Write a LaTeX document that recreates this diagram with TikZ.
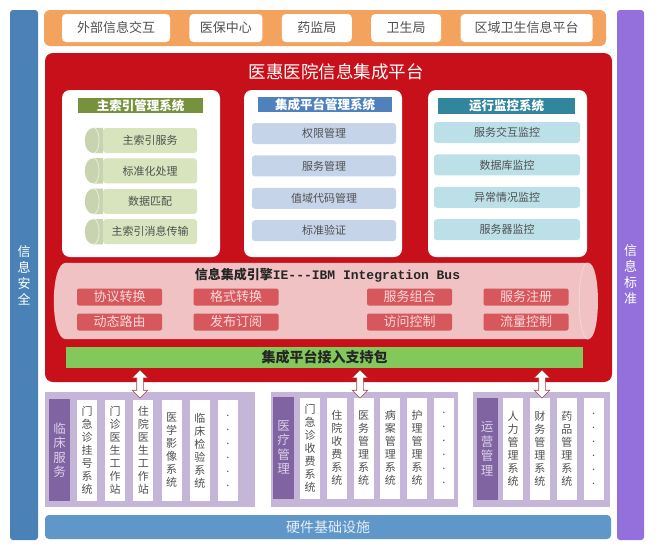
\documentclass[tikz,border=0pt]{standalone}
\usepackage{fontspec}
\setmainfont{Noto Sans CJK SC}
\setmonofont{Liberation Mono}
\usetikzlibrary{positioning,shapes.arrows,calc}
\definecolor{SecBlue}{HTML}{4A82B8}
\definecolor{StdPurple}{HTML}{9370DB}
\definecolor{ExtOrange}{HTML}{F4A35F}
\definecolor{PlatRed}{HTML}{C8101A}
\definecolor{MpiGreen}{HTML}{76923C}
\definecolor{MpiItem}{HTML}{D7E4BD}
\definecolor{MgmtBlue}{HTML}{4F81BD}
\definecolor{MgmtItem}{HTML}{C6D4EA}
\definecolor{MonTeal}{HTML}{31859C}
\definecolor{MonItem}{HTML}{BCE0E8}
\definecolor{EngPink}{HTML}{F0C2C4}
\definecolor{EngRed}{HTML}{D6585C}
\definecolor{EngText}{HTML}{FADADB}
\definecolor{PkgGreen}{HTML}{82C85A}
\definecolor{GrpLav}{HTML}{C5B5D9}
\definecolor{GrpPurple}{HTML}{8064A2}
\definecolor{GrpText}{HTML}{DCD0EA}
\definecolor{HwBlue}{HTML}{5E97C8}
\definecolor{HwText}{HTML}{E6EEF6}
\definecolor{TextGray}{HTML}{505050}
\definecolor{ArrowEdge}{HTML}{A04848}

\begin{document}
\begin{tikzpicture}[x=1pt,y=-1pt,every node/.style={inner sep=0pt},
  bar/.style={rounded corners=3pt,minimum width=28pt,minimum height=530pt,text=white,align=center,font=\fontsize{13}{16}\selectfont},
  topbox/.style={fill=white,rounded corners=4pt,minimum height=28pt,text=TextGray,font=\fontsize{13}{15}\selectfont},
  panel/.style={fill=white,rounded corners=8pt,minimum width=158pt,minimum height=167pt},
  head/.style={minimum height=15pt,text=white,font=\bfseries\fontsize{12.5}{14}\selectfont},
  item/.style={rounded corners=3pt,minimum height=21pt,text=TextGray,font=\fontsize{11}{13}\selectfont},
  eng/.style={fill=EngRed,rounded corners=2pt,minimum width=85pt,minimum height=17pt,text=EngText,font=\fontsize{13}{15}\selectfont},
  grp/.style={fill=GrpLav,minimum height=115pt},
  ghead/.style={fill=GrpPurple,minimum width=21pt,minimum height=102pt,text=GrpText,align=center,font=\fontsize{12.5}{14.5}\selectfont},
  col/.style={fill=white,minimum width=20pt,minimum height=101pt,align=center,text=TextGray,font=\fontsize{11}{13}\selectfont},
  dblarrow/.style={double arrow,rotate=90,fill=white,draw=ArrowEdge,line width=0.6pt,minimum height=28pt,inner sep=3pt,double arrow head extend=4.5pt}]
  \useasboundingbox (0,0) rectangle (660,550);

  % side bars
  \node[bar,fill=SecBlue] (sec) at (24,275) {信\\息\\安\\全};
  \node[bar,fill=StdPurple,minimum width=27pt] (std) at (630.5,275) {信\\息\\标\\准};

  % outside parties
  \node[fill=ExtOrange,rounded corners=6pt,minimum width=562pt,minimum height=36pt] (ext) at (325,28) {};
  \node[topbox,minimum width=108pt] (wb) at (116,28) {外部信息交互};
  \node[topbox,minimum width=73pt,right=19pt of wb] (yb) {医保中心};
  \node[topbox,minimum width=70pt,right=19pt of yb] (yj) {药监局};
  \node[topbox,minimum width=70pt,right=19pt of yj] (ws) {卫生局};
  \node[topbox,minimum width=132pt,right=19pt of ws] (qy) {区域卫生信息平台};

  % platform
  \node[fill=PlatRed,rounded corners=8pt,minimum width=567pt,minimum height=329pt] (plat) at (328.5,217.5) {};
  \node[text=white,font=\fontsize{17.5}{19}\selectfont] (title) at (336,72) {医惠医院信息集成平台};

  \node[panel] (pl) at (141,173.5) {};
  \node[panel] (pm) at (323,173.5) {};
  \node[panel,minimum width=159pt] (pr) at (507.5,173.5) {};

  \node[head,fill=MpiGreen,minimum width=125pt] (hl) at (140.5,105.5) {主索引管理系统};
  \node[head,fill=MgmtBlue,minimum width=134pt] (hm) at (325,104.5) {集成平台管理系统};
  \node[head,fill=MonTeal,minimum width=137pt,minimum height=16pt] (hr) at (506.5,106) {运行监控系统};

  \node[item,fill=MpiItem,minimum width=94pt,minimum height=25pt] (l1) at (150,140.5) {主索引服务};
  \node[item,fill=MpiItem,minimum width=94pt,minimum height=25pt,below=5pt of l1] (l2) {标准化处理};
  \node[item,fill=MpiItem,minimum width=94pt,minimum height=25pt,below=5pt of l2] (l3) {数据匹配};
  \node[item,fill=MpiItem,minimum width=94pt,minimum height=25pt,below=5pt of l3] (l4) {主索引消息传输};
  \foreach \n in {l1,l2,l3,l4} {
    \fill[MpiItem!93!black] ($(\n.north west)+(-9,0)$) .. controls ($(\n.north west)+(-21,0)$) and ($(\n.south west)+(-21,0)$) .. ($(\n.south west)+(-9,0)$) -- (\n.south west) -- (\n.north west) -- cycle;
    \draw[MpiItem!60!white,line width=0.8pt] ($(\n.north west)+(-9,0)$) .. controls ($(\n.north west)+(-2,1)$) and ($(\n.south west)+(-2,-1)$) .. ($(\n.south west)+(-9,0)$);
  }

  \node[item,fill=MgmtItem,minimum width=144pt] (m1) at (324,133.5) {权限管理};
  \node[item,fill=MgmtItem,minimum width=144pt,below=11pt of m1] (m2) {服务管理};
  \node[item,fill=MgmtItem,minimum width=144pt,below=11pt of m2] (m3) {值域代码管理};
  \node[item,fill=MgmtItem,minimum width=144pt,below=11pt of m3] (m4) {标准验证};

  \node[item,fill=MonItem,minimum width=146pt] (r1) at (507,132.5) {服务交互监控};
  \node[item,fill=MonItem,minimum width=146pt,below=11pt of r1] (r2) {数据库监控};
  \node[item,fill=MonItem,minimum width=146pt,below=11pt of r2] (r3) {异常情况监控};
  \node[item,fill=MonItem,minimum width=146pt,below=11pt of r3] (r4) {服务器监控};

  % integration engine
  \node[minimum width=522pt,minimum height=76pt] (ieb) at (327,301) {};
  \fill[EngPink] (ieb.north west) -- (ieb.north east) .. controls ($(ieb.north east)+(13,0)$) and ($(ieb.south east)+(13,0)$) .. (ieb.south east) -- (ieb.south west) .. controls ($(ieb.south west)+(-16,0)$) and ($(ieb.north west)+(-16,0)$) .. cycle;
  \draw[white!35!EngPink,line width=0.8pt] (ieb.north east) .. controls ($(ieb.north east)+(-12,0)$) and ($(ieb.south east)+(-12,0)$) .. (ieb.south east);
  \node[text=black!85,font=\fontsize{13}{15}\selectfont] (iet) at (327.5,275) {\textbf{信息集成引擎}\texttt{\textbf{IE-{}-{}-IBM Integration Bus}}};

  \node[eng] (e1) at (119.5,297) {协议转换};
  \node[eng] (e2) at (236,297) {格式转换};
  \node[eng] (e3) at (409.5,297) {服务组合};
  \node[eng] (e4) at (526,297) {服务注册};
  \node[eng] (e5) at (119.5,322) {动态路由};
  \node[eng] (e6) at (236,322) {发布订阅};
  \node[eng] (e7) at (409.5,322) {访问控制};
  \node[eng] (e8) at (526,322) {流量控制};

  \node[fill=PkgGreen,minimum width=517pt,minimum height=21pt,text=black!85,font=\bfseries\fontsize{14}{16}\selectfont] (pkg) at (324.5,357.5) {集成平台接入支持包};

  % business systems
  \node[grp,minimum width=210pt] (g1) at (150,449.5) {};
  \node[grp,minimum width=187pt] (g2) at (364.5,449.5) {};
  \node[grp,minimum width=137pt] (g3) at (541.5,449.5) {};

  \node[ghead] (gh1) at (59.5,450) {临\\床\\服\\务};
  \node[ghead] (gh2) at (283.5,447.5) {医\\疗\\管\\理};
  \node[ghead] (gh3) at (487,449) {运\\营\\管\\理};

  \node[col] (c11) at (87,450.5) {门\\急\\诊\\挂\\号\\系\\统};
  \node[col,right=7.8pt of c11] (c12) {门\\诊\\医\\生\\工\\作\\站};
  \node[col,right=7.8pt of c12] (c13) {住\\院\\医\\生\\工\\作\\站};
  \node[col,right=7.8pt of c13] (c14) {医\\学\\影\\像\\系\\统};
  \node[col,right=7.8pt of c14] (c15) {临\\床\\检\\验\\系\\统};
  \node[col,right=7.8pt of c15,font=\fontsize{11}{14}\selectfont] (c16) {.\\.\\.\\.\\.\\.};

  \node[col] (c21) at (310,448) {门\\急\\诊\\收\\费\\系\\统};
  \node[col,right=6.4pt of c21] (c22) {住\\院\\收\\费\\系\\统};
  \node[col,right=6.4pt of c22] (c23) {医\\务\\管\\理\\系\\统};
  \node[col,right=6.4pt of c23] (c24) {病\\案\\管\\理\\系\\统};
  \node[col,right=6.4pt of c24] (c25) {护\\理\\管\\理\\系\\统};
  \node[col,right=6.4pt of c25,font=\fontsize{11}{14}\selectfont] (c26) {.\\.\\.\\.\\.\\.};

  \node[col,minimum height=102pt] (c31) at (513,449) {人\\力\\管\\理\\系\\统};
  \node[col,minimum height=102pt,right=6.5pt of c31] (c32) {财\\务\\管\\理\\系\\统};
  \node[col,minimum height=102pt,right=6.5pt of c32] (c33) {药\\品\\管\\理\\系\\统};
  \node[col,minimum height=102pt,right=6.5pt of c33,font=\fontsize{11}{14}\selectfont] (c34) {.\\.\\.\\.\\.\\.};

  \node[dblarrow] (a1) at (140,384) {};
  \node[dblarrow] (a2) at (360,384) {};
  \node[dblarrow] (a3) at (542,384) {};

  \node[fill=HwBlue,rounded corners=4pt,minimum width=566pt,minimum height=24pt,text=HwText,font=\fontsize{14}{16}\selectfont] (hw) at (328,527) {硬件基础设施};
\end{tikzpicture}
\end{document}
